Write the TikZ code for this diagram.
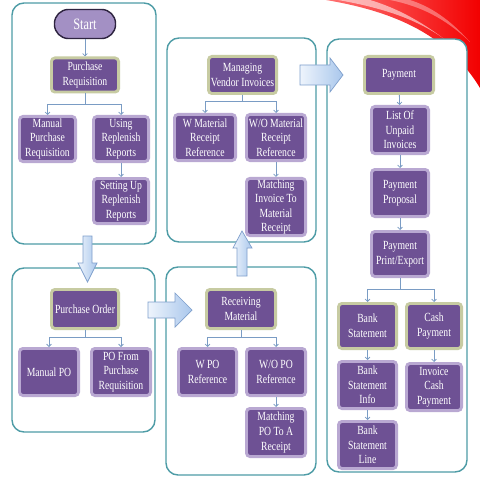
\documentclass[tikz,border=0pt]{standalone}
\usepackage{fontspec}
\setmainfont{Liberation Serif}[FakeStretch=0.78]
\usetikzlibrary{arrows.meta,calc}
\definecolor{boxfill}{HTML}{6E5194}
\definecolor{startfill}{HTML}{A390C4}
\definecolor{startline}{HTML}{2E2440}
\definecolor{khaki}{HTML}{C7CBA2}
\definecolor{lav}{HTML}{B9A8D2}
\definecolor{panelline}{HTML}{4E9CA6}
\definecolor{linkcol}{HTML}{7A9CC4}
\definecolor{arrowlight}{HTML}{EEF4FC}
\definecolor{arrowdark}{HTML}{A9C7EC}
\definecolor{arrowline}{HTML}{7F9FCC}
\tikzset{
panel/.style = {draw = panelline, fill = white, line width = 1.2pt, rounded corners = 0.36cm},
box/.style = {draw = lav, fill = boxfill, line width = 2.5pt, rounded corners = 3pt, text = white, align = center, inner sep = 1pt, font = \fontsize{10.6}{12.4}\selectfont},
keybox/.style = {box, draw = khaki},
sz/.style 2 args = {minimum width = #1*0.03cm - 2.5pt, minimum height = #2*0.03cm - 2.5pt},
link/.style = {draw = linkcol, line width = 0.7pt, -{Straight Barb[length=2pt,width=4pt]}},
barrow/.style = {draw = arrowline, line width = 0.6pt, left color = arrowlight, right color = arrowdark}
}
\begin{document}
\begin{tikzpicture}[x=0.03cm,y=-0.03cm]
\useasboundingbox (0,0) rectangle (480,480);
%
% red corner swoosh
\shade[left color = red!55, right color = red!95!black] (326,0) .. controls (385,10) and (445,30) .. (480,88) -- (480,0) -- cycle;
\fill[white, opacity = 0.55] (338,0) .. controls (395,10) and (430,25) .. (458,50) .. controls (420,18) and (390,6) .. (370,0) -- cycle;
\fill[white, opacity = 0.35] (390,0) .. controls (420,6) and (445,18) .. (470,42) .. controls (445,14) and (425,5) .. (410,0) -- cycle;
%
% panels
\draw[panel] (12,3) rectangle (156,244);
\draw[panel] (167,38) rectangle (316,242);
\draw[panel] (327,39) rectangle (467,472);
\draw[panel] (12,268) rectangle (155,432);
\draw[panel] (166,267) rectangle (316,475);
%
% block arrows between panels
\draw[barrow] (83,236) -- (92,236) -- (92,263) -- (97,263) -- (87.5,282) -- (78,263) -- (83,263) -- cycle;
\draw[barrow] (148,302) -- (175,302) -- (175,293) -- (192,310) -- (175,327) -- (175,318) -- (148,318) -- cycle;
\draw[barrow] (237,276) -- (237,248) -- (233,248) -- (242,231) -- (252,248) -- (247,248) -- (247,276) -- cycle;
\draw[barrow] (300,65) -- (330,65) -- (330,58) -- (343,75) -- (330,92) -- (330,85) -- (300,85) -- cycle;
%
% requisition
\node[box, draw = startline, fill = startfill, line width = 1.2pt, rounded corners = 0.42cm, sz = {64}{32}, font = \fontsize{13.5}{15}\selectfont] (start) at (85,24) {Start};
\node[keybox, sz = {70}{37}] (purreq) at (85,75) {Purchase\\Requisition};
\node[box, sz = {59}{48}] (manpr) at (47.5,139) {Manual\\Purchase\\Requisition};
\node[box, sz = {58}{48}] (usrep) at (121,139) {Using\\Replenish\\Reports};
\node[box, sz = {58}{48}] (setrep) at (121,201) {Setting Up\\Replenish\\Reports};
%
% order
\node[keybox, sz = {70}{42}] (po) at (85,309) {Purchase Order};
\node[box, sz = {62}{50}] (manpo) at (49,372) {Manual PO};
\node[box, sz = {62}{50}] (pofrom) at (121,372) {PO From\\Purchase\\Requisition};
%
% receiving
\node[keybox, sz = {72}{42}] (recmat) at (241,309) {Receiving\\Material};
\node[box, sz = {61}{50}] (wpo) at (207.5,372) {W PO\\Reference};
\node[box, sz = {62}{50}] (wopo) at (276,372) {W/O PO\\Reference};
\node[box, sz = {62}{51}] (matpo) at (276,432.5) {Matching\\PO To A\\Receipt};
%
% invoices
\node[keybox, sz = {71}{40}] (mvi) at (242.5,75) {Managing\\Vendor Invoices};
\node[box, sz = {64}{49}] (wmat) at (205,137.5) {W Material\\Receipt\\Reference};
\node[box, sz = {62}{49}] (womat) at (276,137.5) {W/O Material\\Receipt\\Reference};
\node[box, sz = {62}{60}] (matinv) at (276,207) {Matching\\Invoice To\\Material\\Receipt};
%
% payment
\node[keybox, sz = {72}{40}] (pay) at (399,75) {Payment};
\node[box, sz = {60}{50}] (unpaid) at (400,130) {List Of\\Unpaid\\Invoices};
\node[box, sz = {60}{50}] (proposal) at (400,193) {Payment\\Proposal};
\node[box, sz = {60}{48}] (printexp) at (400,254) {Payment\\Print/Export};
\node[keybox, sz = {61}{48}] (bankst) at (367.5,326) {Bank\\Statement};
\node[keybox, sz = {58}{48}] (cashpay) at (434,326) {Cash\\Payment};
\node[box, sz = {61}{50}] (bsinfo) at (367.5,385) {Bank\\Statement\\Info};
\node[box, sz = {58}{50}] (invcash) at (434,387) {Invoice\\Cash\\Payment};
\node[box, sz = {61}{50}] (bsline) at (367.5,445) {Bank\\Statement\\Line};
%
% connectors
\draw[link] (start) -- (purreq);
\draw[link] (purreq.south) -- ++(0,11) -| (manpr);
\draw[link] (purreq.south) -- ++(0,11) -| (usrep);
\draw[link] (usrep) -- (setrep);
%
\draw[link] (po.south) -- ++(0,7) -| (manpo);
\draw[link] (po.south) -- ++(0,7) -| (pofrom);
%
\draw[link] (recmat.south) -- ++(0,7) -| (wpo);
\draw[link] (recmat.south) -- ++(0,7) -| (wopo);
\draw[link] (wopo) -- (matpo);
%
\draw[link] (mvi.south) -- ++(0,6) -| (wmat);
\draw[link] (mvi.south) -- ++(0,6) -| (womat);
\draw[link] (womat) -- (matinv);
%
\draw[link] (pay) -- (unpaid);
\draw[link] (unpaid) -- (proposal);
\draw[link] (proposal) -- (printexp);
\draw[link] (printexp.south) -- ++(0,11) -| (bankst);
\draw[link] (printexp.south) -- ++(0,11) -| (cashpay);
\draw[link] (bankst) -- (bsinfo);
\draw[link] (bsinfo) -- (bsline);
\draw[link] (cashpay) -- (invcash);
%
\end{tikzpicture}
\end{document}
